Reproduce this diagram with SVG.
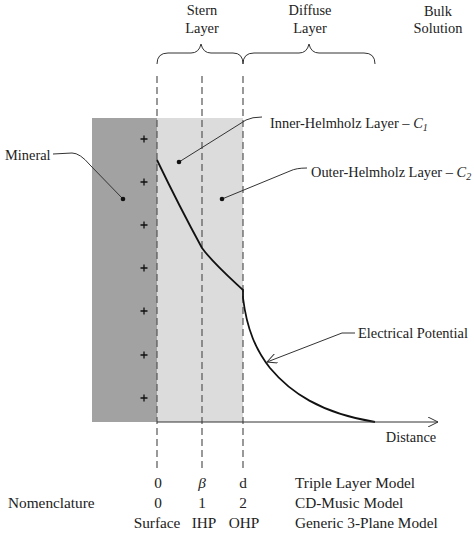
<svg xmlns="http://www.w3.org/2000/svg" width="474" height="533" viewBox="0 0 474 533">
<style>
text{font-family:"Liberation Serif","Times New Roman",serif;font-size:15.3px;fill:#222}
.lab{font-size:14.4px}
.c{text-anchor:middle}
.dash{stroke:#555;stroke-width:1.2;stroke-dasharray:7,4;fill:none}
.thin{stroke:#333;stroke-width:1;fill:none}
.plus{stroke:#111;stroke-width:1.3;fill:none}
</style>
<defs>
<marker id="open" markerWidth="12" markerHeight="10" refX="10" refY="5" orient="auto" markerUnits="userSpaceOnUse">
<path d="M0,0 L10,5 L0,10" fill="none" stroke="#333" stroke-width="1"/>
</marker>
<path id="pl" d="M-3.5,0 H3.5 M0,-3.5 V3.5"/>
</defs>
<g id="regions">
<rect id="mineral-rect" x="92" y="118" width="65" height="304" fill="#a2a2a2"/>
<rect id="stern-rect" x="157" y="118" width="86" height="304" fill="#dcdcdc"/>
</g>
<g id="pluses" class="plus">
<use href="#pl" x="144" y="139"/>
<use href="#pl" x="144" y="182"/>
<use href="#pl" x="144" y="225"/>
<use href="#pl" x="144" y="268"/>
<use href="#pl" x="144" y="311"/>
<use href="#pl" x="144" y="355"/>
<use href="#pl" x="144" y="398"/>
</g>
<g id="planes">
<line class="dash" x1="157" y1="76" x2="157" y2="468"/>
<line class="dash" x1="202" y1="76" x2="202" y2="468"/>
<line class="dash" x1="243" y1="76" x2="243" y2="468"/>
</g>
<g id="braces">
<path class="thin" d="M157,64 Q157,53 168,53 L191,53 Q199,53 201,44 Q203,53 211,53 L233,53 Q243,53 243,64"/>
<path class="thin" d="M243,64 Q243,53 254,53 L299,53 Q307,53 309,44 Q311,53 319,53 L364,53 Q375,53 375,64"/>
</g>
<g id="header-labels" class="lab">
<text class="c lab" x="202" y="15">Stern</text>
<text class="c lab" x="202" y="33">Layer</text>
<text class="c lab" x="310" y="15">Diffuse</text>
<text class="c lab" x="310" y="33">Layer</text>
<text class="c lab" x="438" y="16">Bulk</text>
<text class="c lab" x="438" y="33">Solution</text>
</g>
<g id="connectors">
<path id="potential" d="M157,160 C170,187 190,226 202,248 C213,263 229,277 243,290 L243,298 C247,330 256,350 270,368 C290,392 320,413 375,422" fill="none" stroke="#111" stroke-width="1.8"/>
<line id="axis" x1="157" y1="422" x2="438" y2="422" stroke="#333" stroke-width="1" marker-end="url(#open)"/>
<path id="mineral-leader" class="thin" d="M53,154 L72,153 Q80,153 90,165 L123,199"/>
<path id="inner-leader" class="thin" d="M179,162 L246,120 Q252,117 262,117"/>
<path id="outer-leader" class="thin" d="M222,199 L290,171 Q296,168 307,168"/>
<path id="ep-leader" class="thin" d="M355,333 L342,333 L267,362" marker-end="url(#open)"/>
</g>
<g id="dots">
<circle cx="123" cy="199" r="2.3" fill="#111"/>
<circle cx="179" cy="162" r="2.3" fill="#111"/>
<circle cx="222" cy="199" r="2.3" fill="#111"/>
</g>
<g id="labels">
<text class="lab" x="5" y="160">Mineral</text>
<text class="lab" x="270" y="128">Inner-Helmholz Layer – <tspan font-style="italic">C</tspan><tspan font-style="italic" font-size="10" dy="3">1</tspan></text>
<text class="lab" x="311" y="177" font-size="14">Outer-Helmholz Layer – <tspan font-style="italic">C</tspan><tspan font-style="italic" font-size="10" dy="3">2</tspan></text>
<text class="lab" x="358" y="338">Electrical Potential</text>
<text class="c lab" x="411" y="442">Distance</text>
</g>
<g id="nomenclature">
<text class="c" x="158" y="488">0</text>
<text class="c" x="202" y="488" font-style="italic">β</text>
<text class="c" x="243" y="488">d</text>
<text x="295" y="488">Triple Layer Model</text>
<text x="8" y="508">Nomenclature</text>
<text class="c" x="158" y="508">0</text>
<text class="c" x="202" y="508">1</text>
<text class="c" x="243" y="508">2</text>
<text x="295" y="508">CD-Music Model</text>
<text class="c" x="157" y="528">Surface</text>
<text class="c" x="204" y="528">IHP</text>
<text class="c" x="244" y="528">OHP</text>
<text x="295" y="528">Generic 3-Plane Model</text>
</g>
</svg>
